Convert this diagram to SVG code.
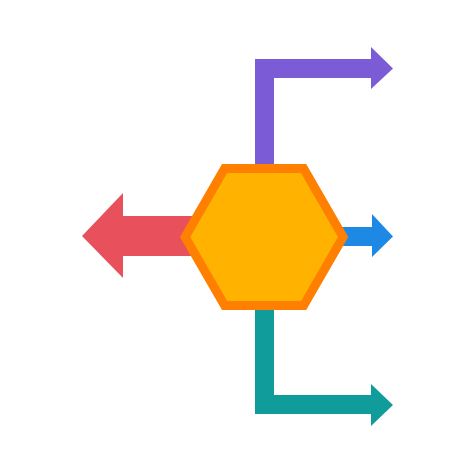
<svg xmlns="http://www.w3.org/2000/svg" width="474" height="474" viewBox="0 0 474 474">
<style>
.purple{fill:#7b5cd6}
.red{fill:#e8505b}
.blue{fill:#1e88e5}
.teal{fill:#119c9c}
.hex{fill:#ffb300;stroke:#ff8000;stroke-width:9;stroke-linejoin:miter}
</style>
<rect width="474" height="474" fill="#ffffff"/>
<g id="connectors">
<path class="purple" d="M255,175 V59 H371 V47 L393,68.5 L371,89 V78 H274 V175 Z"/>
<path class="teal" d="M255,300 V414 H371 V426 L393,405 L371,384 V395 H274 V300 Z"/>
<path class="red" d="M220,216 H123 V193 L82,236 L123,278 V256 H220 Z"/>
<path class="blue" d="M330,227 H372 V214 L393,236.5 L372,257 V246 H330 Z"/>
</g>
<g id="hexagon">
<polygon class="hex" points="343.1,237 303.6,305.5 224.6,305.5 185.1,237 224.6,168.5 303.6,168.5"/>
</g>
</svg>
